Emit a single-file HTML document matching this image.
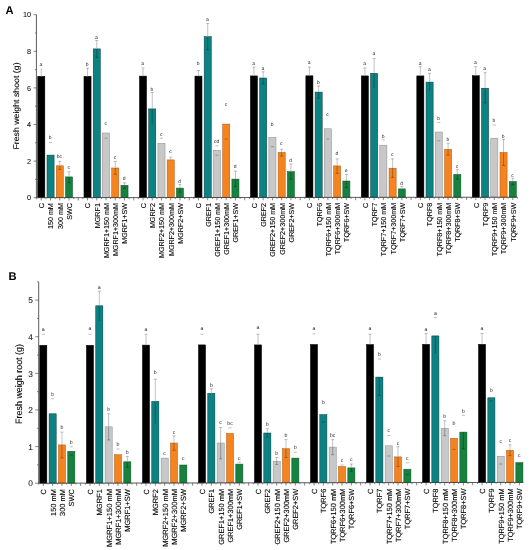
<!DOCTYPE html>
<html lang="en">
<head>
<meta charset="utf-8">
<title>Fresh weight shoot and root</title>
<style>
html,body{margin:0;padding:0;background:#fff}
body{width:531px;height:550px;overflow:hidden}
svg{display:block}
text{font-family:"Liberation Sans",Arial,Helvetica,sans-serif;fill:#111;text-rendering:geometricPrecision}
.xl{text-anchor:end;fill:#000;stroke:#000;stroke-width:.1px}
.yl{text-anchor:end;fill:#111;stroke:#111;stroke-width:.06px}
.sig{text-anchor:middle;fill:#262626}
.ti{fill:#000;stroke:#000;stroke-width:.1px}
.pl{font-size:11.2px;font-weight:bold;fill:#000}
.ax{fill:none;stroke:#333;stroke-width:0.8}
.tk{fill:none;stroke:#444;stroke-width:0.65}
.ev{fill:none;stroke:#b2b2b2;stroke-width:0.8}
.eu{fill:none;stroke:#8e8e8e;stroke-width:0.6}
.el{fill:none;stroke:#000;stroke-width:0.5;opacity:.55}
</style>
</head>
<body>
<svg width="531" height="550" viewBox="0 0 531 550">
<rect width="531" height="550" fill="#fff"/>
<g id="chartA">
<rect x="37.75" y="76.3" width="7.1" height="121.39" fill="#000000" stroke="#000000" stroke-width="0.5"/>
<rect x="46.99" y="155.1" width="7.1" height="42.59" fill="#0c8283" stroke="#043a3b" stroke-width="0.5"/>
<rect x="56.24" y="165.8" width="7.1" height="31.88" fill="#f5831f" stroke="#a85a18" stroke-width="0.5"/>
<rect x="65.48" y="176.9" width="7.1" height="20.77" fill="#17813f" stroke="#0c5226" stroke-width="0.5"/>
<rect x="83.97" y="76.3" width="7.1" height="121.35" fill="#000000" stroke="#000000" stroke-width="0.5"/>
<rect x="93.22" y="48.9" width="7.1" height="148.74" fill="#0c8283" stroke="#043a3b" stroke-width="0.5"/>
<rect x="102.46" y="133" width="7.1" height="64.63" fill="#c8c8c8" stroke="#8a8a8a" stroke-width="0.5"/>
<rect x="111.71" y="168" width="7.1" height="29.62" fill="#f5831f" stroke="#a85a18" stroke-width="0.5"/>
<rect x="120.95" y="185.3" width="7.1" height="12.31" fill="#17813f" stroke="#0c5226" stroke-width="0.5"/>
<rect x="139.44" y="76.1" width="7.1" height="121.49" fill="#000000" stroke="#000000" stroke-width="0.5"/>
<rect x="148.69" y="108.9" width="7.1" height="88.68" fill="#0c8283" stroke="#043a3b" stroke-width="0.5"/>
<rect x="157.93" y="143.3" width="7.1" height="54.27" fill="#c8c8c8" stroke="#8a8a8a" stroke-width="0.5"/>
<rect x="167.18" y="159.9" width="7.1" height="37.66" fill="#f5831f" stroke="#a85a18" stroke-width="0.5"/>
<rect x="176.42" y="188.1" width="7.1" height="9.45" fill="#17813f" stroke="#0c5226" stroke-width="0.5"/>
<rect x="194.91" y="76.1" width="7.1" height="121.43" fill="#000000" stroke="#000000" stroke-width="0.5"/>
<rect x="204.16" y="36.6" width="7.1" height="160.92" fill="#0c8283" stroke="#043a3b" stroke-width="0.5"/>
<rect x="213.4" y="150.3" width="7.1" height="47.21" fill="#c8c8c8" stroke="#8a8a8a" stroke-width="0.5"/>
<rect x="222.65" y="124.1" width="7.1" height="73.4" fill="#f5831f" stroke="#a85a18" stroke-width="0.5"/>
<rect x="231.89" y="179.1" width="7.1" height="18.39" fill="#17813f" stroke="#0c5226" stroke-width="0.5"/>
<rect x="250.38" y="75.9" width="7.1" height="121.57" fill="#000000" stroke="#000000" stroke-width="0.5"/>
<rect x="259.63" y="78" width="7.1" height="119.46" fill="#0c8283" stroke="#043a3b" stroke-width="0.5"/>
<rect x="268.87" y="137.3" width="7.1" height="60.15" fill="#c8c8c8" stroke="#8a8a8a" stroke-width="0.5"/>
<rect x="278.12" y="152.4" width="7.1" height="45.04" fill="#f5831f" stroke="#a85a18" stroke-width="0.5"/>
<rect x="287.36" y="171.6" width="7.1" height="25.84" fill="#17813f" stroke="#0c5226" stroke-width="0.5"/>
<rect x="305.85" y="75.8" width="7.1" height="121.62" fill="#000000" stroke="#000000" stroke-width="0.5"/>
<rect x="315.1" y="92.1" width="7.1" height="105.31" fill="#0c8283" stroke="#043a3b" stroke-width="0.5"/>
<rect x="324.34" y="128.8" width="7.1" height="68.6" fill="#c8c8c8" stroke="#8a8a8a" stroke-width="0.5"/>
<rect x="333.59" y="165.9" width="7.1" height="31.49" fill="#f5831f" stroke="#a85a18" stroke-width="0.5"/>
<rect x="342.83" y="181" width="7.1" height="16.38" fill="#17813f" stroke="#0c5226" stroke-width="0.5"/>
<rect x="361.32" y="75.9" width="7.1" height="121.46" fill="#000000" stroke="#000000" stroke-width="0.5"/>
<rect x="370.57" y="73.3" width="7.1" height="124.05" fill="#0c8283" stroke="#043a3b" stroke-width="0.5"/>
<rect x="379.81" y="145.2" width="7.1" height="52.14" fill="#c8c8c8" stroke="#8a8a8a" stroke-width="0.5"/>
<rect x="389.06" y="168.2" width="7.1" height="29.13" fill="#f5831f" stroke="#a85a18" stroke-width="0.5"/>
<rect x="398.3" y="188.9" width="7.1" height="8.42" fill="#17813f" stroke="#0c5226" stroke-width="0.5"/>
<rect x="416.79" y="75.9" width="7.1" height="121.4" fill="#000000" stroke="#000000" stroke-width="0.5"/>
<rect x="426.04" y="82.1" width="7.1" height="115.19" fill="#0c8283" stroke="#043a3b" stroke-width="0.5"/>
<rect x="435.28" y="132" width="7.1" height="65.28" fill="#c8c8c8" stroke="#8a8a8a" stroke-width="0.5"/>
<rect x="444.53" y="149.3" width="7.1" height="47.97" fill="#f5831f" stroke="#a85a18" stroke-width="0.5"/>
<rect x="453.77" y="174.4" width="7.1" height="22.86" fill="#17813f" stroke="#0c5226" stroke-width="0.5"/>
<rect x="472.26" y="75.7" width="7.1" height="121.54" fill="#000000" stroke="#000000" stroke-width="0.5"/>
<rect x="481.51" y="88.2" width="7.1" height="109.03" fill="#0c8283" stroke="#043a3b" stroke-width="0.5"/>
<rect x="490.75" y="138.2" width="7.1" height="59.02" fill="#c8c8c8" stroke="#8a8a8a" stroke-width="0.5"/>
<rect x="500" y="152.4" width="7.1" height="44.81" fill="#f5831f" stroke="#a85a18" stroke-width="0.5"/>
<rect x="509.24" y="181.5" width="7.1" height="15.7" fill="#17813f" stroke="#0c5226" stroke-width="0.5"/>
<g style="font-size:5px">
<path class="ev" d="M41.3 68.1V76.3M59.79 161.3V165.8M69.03 171.7V176.9M87.52 68.2V76.3M96.77 40.4V48.9M115.26 161.5V168M124.5 182.9V185.3M143 68V76.1M152.24 92.5V108.9M170.73 157.1V159.9M179.97 184.4V188.1M198.46 70.5V76.1M207.71 23.4V36.6M235.44 171.2V179.1M253.94 67.1V75.9M263.18 71.8V78M281.67 149.3V152.4M290.91 164V171.6M309.4 67.1V75.8M318.65 85.9V92.1M337.14 158.9V165.9M346.38 174.4V181M364.88 68V75.9M374.12 58.6V73.3M392.61 158.8V168.2M401.85 186.3V188.9M420.34 66.7V75.9M429.59 73.3V82.1M448.08 143.3V149.3M457.32 169.7V174.4M475.81 66.7V75.7M485.06 72.7V88.2M503.55 139.5V152.4M512.79 178.2V181.5"/>
<path class="eu" d="M49.04 142.5h3M58.29 161.3h3M67.53 171.7h3M86.02 68.2h3M95.27 40.4h3M113.76 161.5h3M123 182.9h3M141.5 68h3M150.74 92.5h3M159.98 138.2h3M169.23 157.1h3M178.47 184.4h3M196.96 70.5h3M206.21 23.4h3M215.45 145.8h3M233.94 171.2h3M252.44 67.1h3M261.68 71.8h3M280.17 149.3h3M289.41 164h3M307.9 67.1h3M317.15 85.9h3M335.64 158.9h3M344.88 174.4h3M363.38 68h3M372.62 58.6h3M381.87 139.9h3M391.11 158.8h3M400.35 186.3h3M418.84 66.7h3M428.09 73.3h3M437.33 122.6h3M446.58 143.3h3M455.82 169.7h3M474.31 66.7h3M483.56 72.7h3M492.8 125h3M502.05 139.5h3M511.29 178.2h3"/>
<path class="el" d="M59.79 165.8V169.4M58.29 169.4h3M69.03 176.9V182.8M67.53 182.8h3M96.77 48.9V57.4M95.27 57.4h3M104.51 138.2h3M115.26 168V174.4M113.76 174.4h3M124.5 185.3V188.5M123 188.5h3M152.24 108.9V124.5M179.97 188.1V192.3M178.47 192.3h3M207.71 36.6V49.8M206.21 49.8h3M215.45 155.2h3M224.7 139h3M235.44 179.1V186.6M233.94 186.6h3M263.18 78V84M261.68 84h3M270.92 146.7h3M281.67 152.4V156.1M280.17 156.1h3M290.91 171.6V179.1M289.41 179.1h3M318.65 92.1V98.2M317.15 98.2h3M326.39 139h3M337.14 165.9V173.4M335.64 173.4h3M346.38 181V187.6M344.88 187.6h3M374.12 73.3V88M392.61 168.2V177.4M391.11 177.4h3M429.59 82.1V90.7M437.33 140.8h3M448.08 149.3V155M446.58 155h3M457.32 174.4V179.1M455.82 179.1h3M485.06 88.2V102.9M483.56 102.9h3M503.55 152.4V165.5M502.05 165.5h3M512.79 181.5V184.7M511.29 184.7h3"/>
<text class="sig" x="41" y="65.75">a</text>
<text class="sig" x="50.24" y="138.95">b</text>
<text class="sig" x="59.49" y="158.35">bc</text>
<text class="sig" x="68.73" y="169.25">c</text>
<text class="sig" x="87.22" y="66.25">b</text>
<text class="sig" x="96.47" y="38.55">a</text>
<text class="sig" x="105.71" y="125.25">c</text>
<text class="sig" x="114.96" y="158.75">c</text>
<text class="sig" x="124.2" y="180.25">d</text>
<text class="sig" x="142.69" y="65.05">a</text>
<text class="sig" x="151.94" y="91.05">b</text>
<text class="sig" x="161.18" y="136.25">c</text>
<text class="sig" x="170.43" y="152.95">c</text>
<text class="sig" x="179.67" y="183.15">d</text>
<text class="sig" x="198.16" y="65.05">b</text>
<text class="sig" x="207.41" y="20.85">a</text>
<text class="sig" x="216.65" y="143.15">cd</text>
<text class="sig" x="225.9" y="106.45">c</text>
<text class="sig" x="235.14" y="168.05">d</text>
<text class="sig" x="253.63" y="64.65">a</text>
<text class="sig" x="262.88" y="69.75">a</text>
<text class="sig" x="272.12" y="126.25">b</text>
<text class="sig" x="281.37" y="145.45">c</text>
<text class="sig" x="290.61" y="161.65">d</text>
<text class="sig" x="309.1" y="63.55">a</text>
<text class="sig" x="318.35" y="84.45">b</text>
<text class="sig" x="327.59" y="115.85">c</text>
<text class="sig" x="336.84" y="155.45">d</text>
<text class="sig" x="346.08" y="172.35">e</text>
<text class="sig" x="364.57" y="64.65">a</text>
<text class="sig" x="373.82" y="55.25">a</text>
<text class="sig" x="383.06" y="137.55">b</text>
<text class="sig" x="392.31" y="156.35">c</text>
<text class="sig" x="401.55" y="184.65">d</text>
<text class="sig" x="420.04" y="64.65">a</text>
<text class="sig" x="429.29" y="70.75">a</text>
<text class="sig" x="438.53" y="120.05">b</text>
<text class="sig" x="447.78" y="141.25">b</text>
<text class="sig" x="457.02" y="168.05">c</text>
<text class="sig" x="475.51" y="64.15">a</text>
<text class="sig" x="484.76" y="70.35">a</text>
<text class="sig" x="494" y="122.45">b</text>
<text class="sig" x="503.25" y="138.05">b</text>
<text class="sig" x="512.5" y="176.75">c</text>
</g>
<path class="ax" d="M36.4 14.7V197.7M36.1 197.7L517.3 197.2"/>
<path class="tk" d="M33.6 197.7h2.8M35 179.4h1.4M33.6 161.1h2.8M35 142.8h1.4M33.6 124.5h2.8M35 106.2h1.4M33.6 87.9h2.8M35 69.6h1.4M33.6 51.3h2.8M35 33h1.4M33.6 14.7h2.8M36.68 197.7v1.5M41.3 197.69v2.8M45.92 197.69v1.5M50.54 197.69v2.8M55.17 197.68v1.5M59.79 197.68v2.8M64.41 197.67v1.5M69.03 197.67v2.8M73.66 197.66v1.5M78.28 197.66v2.8M82.9 197.65v1.5M87.52 197.65v2.8M92.15 197.64v1.5M96.77 197.64v2.8M101.39 197.63v1.5M106.01 197.63v2.8M110.64 197.62v1.5M115.26 197.62v2.8M119.88 197.61v1.5M124.5 197.61v2.8M129.13 197.6v1.5M133.75 197.6v2.8M138.37 197.59v1.5M143 197.59v2.8M147.62 197.58v1.5M152.24 197.58v2.8M156.86 197.57v1.5M161.48 197.57v2.8M166.11 197.57v1.5M170.73 197.56v2.8M175.35 197.56v1.5M179.97 197.55v2.8M184.6 197.55v1.5M189.22 197.54v2.8M193.84 197.54v1.5M198.46 197.53v2.8M203.09 197.53v1.5M207.71 197.52v2.8M212.33 197.52v1.5M216.95 197.51v2.8M221.58 197.51v1.5M226.2 197.5v2.8M230.82 197.5v1.5M235.44 197.49v2.8M240.07 197.49v1.5M244.69 197.48v2.8M249.31 197.48v1.5M253.94 197.47v2.8M258.56 197.47v1.5M263.18 197.46v2.8M267.8 197.46v1.5M272.42 197.45v2.8M277.05 197.45v1.5M281.67 197.44v2.8M286.29 197.44v1.5M290.91 197.44v2.8M295.54 197.43v1.5M300.16 197.43v2.8M304.78 197.42v1.5M309.4 197.42v2.8M314.03 197.41v1.5M318.65 197.41v2.8M323.27 197.4v1.5M327.89 197.4v2.8M332.52 197.39v1.5M337.14 197.39v2.8M341.76 197.38v1.5M346.38 197.38v2.8M351.01 197.37v1.5M355.63 197.37v2.8M360.25 197.36v1.5M364.88 197.36v2.8M369.5 197.35v1.5M374.12 197.35v2.8M378.74 197.34v1.5M383.37 197.34v2.8M387.99 197.33v1.5M392.61 197.33v2.8M397.23 197.32v1.5M401.85 197.32v2.8M406.48 197.32v1.5M411.1 197.31v2.8M415.72 197.31v1.5M420.34 197.3v2.8M424.97 197.3v1.5M429.59 197.29v2.8M434.21 197.29v1.5M438.83 197.28v2.8M443.46 197.28v1.5M448.08 197.27v2.8M452.7 197.27v1.5M457.32 197.26v2.8M461.95 197.26v1.5M466.57 197.25v2.8M471.19 197.25v1.5M475.81 197.24v2.8M480.44 197.24v1.5M485.06 197.23v2.8M489.68 197.23v1.5M494.3 197.22v2.8M498.93 197.22v1.5M503.55 197.21v2.8M508.17 197.21v1.5M512.79 197.2v2.8M517.42 197.2v1.5"/>
<text class="yl" style="font-size:7.3px" x="31" y="200.43">0</text>
<text class="yl" style="font-size:7.3px" x="31" y="163.83">2</text>
<text class="yl" style="font-size:7.3px" x="31" y="127.23">4</text>
<text class="yl" style="font-size:7.3px" x="31" y="90.63">6</text>
<text class="yl" style="font-size:7.3px" x="31" y="54.03">8</text>
<text class="yl" style="font-size:7.3px" x="31" y="17.43">10</text>
<g style="font-size:7.15px">
<text class="xl" transform="translate(44.2 203.19) rotate(-90)">C</text>
<text class="xl" transform="translate(53.44 203.18) rotate(-90)">150 mM</text>
<text class="xl" transform="translate(62.69 203.17) rotate(-90)">300 mM</text>
<text class="xl" transform="translate(71.94 203.16) rotate(-90)">SWC</text>
<text class="xl" transform="translate(90.42 203.14) rotate(-90)">C</text>
<text class="xl" transform="translate(99.67 203.13) rotate(-90)">MGRF1</text>
<text class="xl" transform="translate(108.91 203.12) rotate(-90)">MGRF1+150 mM</text>
<text class="xl" transform="translate(118.16 203.11) rotate(-90)">MGRF1+300mM</text>
<text class="xl" transform="translate(127.41 203.11) rotate(-90)">MGRF1+SW</text>
<text class="xl" transform="translate(145.9 203.09) rotate(-90)">C</text>
<text class="xl" transform="translate(155.14 203.08) rotate(-90)">MGRF2</text>
<text class="xl" transform="translate(164.38 203.07) rotate(-90)">MGRF2+150 mM</text>
<text class="xl" transform="translate(173.63 203.06) rotate(-90)">MGRF2+300mM</text>
<text class="xl" transform="translate(182.87 203.05) rotate(-90)">MGRF2+SW</text>
<text class="xl" transform="translate(201.36 203.03) rotate(-90)">C</text>
<text class="xl" transform="translate(210.61 203.02) rotate(-90)">GREF1</text>
<text class="xl" transform="translate(219.85 203.01) rotate(-90)">GREF1+150 mM</text>
<text class="xl" transform="translate(229.1 203) rotate(-90)">GREF1+300mM</text>
<text class="xl" transform="translate(238.34 202.99) rotate(-90)">GREF1+SW</text>
<text class="xl" transform="translate(256.83 202.97) rotate(-90)">C</text>
<text class="xl" transform="translate(266.08 202.96) rotate(-90)">GREF2</text>
<text class="xl" transform="translate(275.32 202.95) rotate(-90)">GREF2+150 mM</text>
<text class="xl" transform="translate(284.57 202.94) rotate(-90)">GREF2+300mM</text>
<text class="xl" transform="translate(293.81 202.93) rotate(-90)">GREF2+SW</text>
<text class="xl" transform="translate(312.3 202.91) rotate(-90)">C</text>
<text class="xl" transform="translate(321.55 202.9) rotate(-90)">TQRF6</text>
<text class="xl" transform="translate(330.79 202.89) rotate(-90)">TQRF6+150 mM</text>
<text class="xl" transform="translate(340.04 202.88) rotate(-90)">TQRF6+300mM</text>
<text class="xl" transform="translate(349.28 202.87) rotate(-90)">TQRF6+SW</text>
<text class="xl" transform="translate(367.77 202.86) rotate(-90)">C</text>
<text class="xl" transform="translate(377.02 202.85) rotate(-90)">TQRF7</text>
<text class="xl" transform="translate(386.26 202.84) rotate(-90)">TQRF7+150 mM</text>
<text class="xl" transform="translate(395.51 202.83) rotate(-90)">TQRF7+300mM</text>
<text class="xl" transform="translate(404.75 202.82) rotate(-90)">TQRF7+SW</text>
<text class="xl" transform="translate(423.24 202.8) rotate(-90)">C</text>
<text class="xl" transform="translate(432.49 202.79) rotate(-90)">TQRF8</text>
<text class="xl" transform="translate(441.73 202.78) rotate(-90)">TQRF8+150 mM</text>
<text class="xl" transform="translate(450.98 202.77) rotate(-90)">TQRF8+300mM</text>
<text class="xl" transform="translate(460.22 202.76) rotate(-90)">TQRF8+SW</text>
<text class="xl" transform="translate(478.71 202.74) rotate(-90)">C</text>
<text class="xl" transform="translate(487.96 202.73) rotate(-90)">TQRF9</text>
<text class="xl" transform="translate(497.2 202.72) rotate(-90)">TQRF9+150 mM</text>
<text class="xl" transform="translate(506.45 202.71) rotate(-90)">TQRF9+300mM</text>
<text class="xl" transform="translate(515.69 202.7) rotate(-90)">TQRF9+SW</text>
</g>
<text class="ti" style="font-size:8.2px" transform="translate(18.9 149.6) rotate(-90) scale(1.07 1)">Fresh weight shoot (g)</text>
<text class="pl" x="5.6" y="14.1">A</text>
</g>
<g id="chartB">
<rect x="39.75" y="345.3" width="7.1" height="137.89" fill="#000000" stroke="#000000" stroke-width="0.5"/>
<rect x="49.09" y="413.8" width="7.1" height="69.38" fill="#0c8283" stroke="#043a3b" stroke-width="0.5"/>
<rect x="58.42" y="444.9" width="7.1" height="38.26" fill="#f5831f" stroke="#a85a18" stroke-width="0.5"/>
<rect x="67.76" y="451.3" width="7.1" height="31.85" fill="#17813f" stroke="#0c5226" stroke-width="0.5"/>
<rect x="86.42" y="345.3" width="7.1" height="137.82" fill="#000000" stroke="#000000" stroke-width="0.5"/>
<rect x="95.76" y="305.8" width="7.1" height="177.3" fill="#0c8283" stroke="#043a3b" stroke-width="0.5"/>
<rect x="105.09" y="426.8" width="7.1" height="56.28" fill="#c8c8c8" stroke="#8a8a8a" stroke-width="0.5"/>
<rect x="114.43" y="454.7" width="7.1" height="28.37" fill="#f5831f" stroke="#a85a18" stroke-width="0.5"/>
<rect x="123.77" y="461.8" width="7.1" height="21.25" fill="#17813f" stroke="#0c5226" stroke-width="0.5"/>
<rect x="142.44" y="345.1" width="7.1" height="137.92" fill="#000000" stroke="#000000" stroke-width="0.5"/>
<rect x="151.77" y="401.4" width="7.1" height="81.61" fill="#0c8283" stroke="#043a3b" stroke-width="0.5"/>
<rect x="161.11" y="458.1" width="7.1" height="24.89" fill="#c8c8c8" stroke="#8a8a8a" stroke-width="0.5"/>
<rect x="170.44" y="443" width="7.1" height="39.98" fill="#f5831f" stroke="#a85a18" stroke-width="0.5"/>
<rect x="179.77" y="465" width="7.1" height="17.96" fill="#17813f" stroke="#0c5226" stroke-width="0.5"/>
<rect x="198.44" y="344.9" width="7.1" height="138.03" fill="#000000" stroke="#000000" stroke-width="0.5"/>
<rect x="207.78" y="393.3" width="7.1" height="89.62" fill="#0c8283" stroke="#043a3b" stroke-width="0.5"/>
<rect x="217.12" y="443" width="7.1" height="39.9" fill="#c8c8c8" stroke="#8a8a8a" stroke-width="0.5"/>
<rect x="226.45" y="433.4" width="7.1" height="49.48" fill="#f5831f" stroke="#a85a18" stroke-width="0.5"/>
<rect x="235.79" y="464.1" width="7.1" height="18.77" fill="#17813f" stroke="#0c5226" stroke-width="0.5"/>
<rect x="254.45" y="344.9" width="7.1" height="137.94" fill="#000000" stroke="#000000" stroke-width="0.5"/>
<rect x="263.79" y="433" width="7.1" height="49.82" fill="#0c8283" stroke="#043a3b" stroke-width="0.5"/>
<rect x="273.12" y="461.3" width="7.1" height="21.51" fill="#c8c8c8" stroke="#8a8a8a" stroke-width="0.5"/>
<rect x="282.46" y="448.7" width="7.1" height="34.09" fill="#f5831f" stroke="#a85a18" stroke-width="0.5"/>
<rect x="291.8" y="458.1" width="7.1" height="24.68" fill="#17813f" stroke="#0c5226" stroke-width="0.5"/>
<rect x="310.47" y="344.5" width="7.1" height="138.25" fill="#000000" stroke="#000000" stroke-width="0.5"/>
<rect x="319.8" y="414.6" width="7.1" height="68.13" fill="#0c8283" stroke="#043a3b" stroke-width="0.5"/>
<rect x="329.14" y="447.1" width="7.1" height="35.61" fill="#c8c8c8" stroke="#8a8a8a" stroke-width="0.5"/>
<rect x="338.47" y="466.5" width="7.1" height="16.2" fill="#f5831f" stroke="#a85a18" stroke-width="0.5"/>
<rect x="347.81" y="467.9" width="7.1" height="14.78" fill="#17813f" stroke="#0c5226" stroke-width="0.5"/>
<rect x="366.48" y="344.5" width="7.1" height="138.15" fill="#000000" stroke="#000000" stroke-width="0.5"/>
<rect x="375.81" y="377.1" width="7.1" height="105.54" fill="#0c8283" stroke="#043a3b" stroke-width="0.5"/>
<rect x="385.15" y="445.8" width="7.1" height="36.82" fill="#c8c8c8" stroke="#8a8a8a" stroke-width="0.5"/>
<rect x="394.48" y="456.9" width="7.1" height="25.71" fill="#f5831f" stroke="#a85a18" stroke-width="0.5"/>
<rect x="403.82" y="469.2" width="7.1" height="13.39" fill="#17813f" stroke="#0c5226" stroke-width="0.5"/>
<rect x="422.49" y="344.3" width="7.1" height="138.26" fill="#000000" stroke="#000000" stroke-width="0.5"/>
<rect x="431.82" y="335.9" width="7.1" height="146.65" fill="#0c8283" stroke="#043a3b" stroke-width="0.5"/>
<rect x="441.16" y="428.3" width="7.1" height="54.23" fill="#c8c8c8" stroke="#8a8a8a" stroke-width="0.5"/>
<rect x="450.49" y="438.3" width="7.1" height="44.21" fill="#f5831f" stroke="#a85a18" stroke-width="0.5"/>
<rect x="459.83" y="432.1" width="7.1" height="50.4" fill="#17813f" stroke="#0c5226" stroke-width="0.5"/>
<rect x="478.5" y="344.3" width="7.1" height="138.17" fill="#000000" stroke="#000000" stroke-width="0.5"/>
<rect x="487.83" y="397.8" width="7.1" height="84.65" fill="#0c8283" stroke="#043a3b" stroke-width="0.5"/>
<rect x="497.17" y="456.2" width="7.1" height="26.24" fill="#c8c8c8" stroke="#8a8a8a" stroke-width="0.5"/>
<rect x="506.5" y="450.3" width="7.1" height="32.12" fill="#f5831f" stroke="#a85a18" stroke-width="0.5"/>
<rect x="515.84" y="462.6" width="7.1" height="19.81" fill="#17813f" stroke="#0c5226" stroke-width="0.5"/>
<g style="font-size:5.2px">
<path class="ev" d="M61.97 432.1V444.9M99.31 291.2V305.8M108.64 413.8V426.8M127.32 456.6V461.8M145.99 334.3V345.1M155.32 379.2V401.4M173.99 435.8V443M211.33 388.8V393.3M220.67 427.4V443M258 334.2V344.9M267.34 428.7V433M276.68 457.5V461.3M286.01 439.6V448.7M332.69 439.6V447.1M351.36 464.1V467.9M370.03 334.2V344.5M398.03 446.6V456.9M426.04 333.6V344.3M444.71 420.8V428.3M482.05 333.6V344.3M510.05 444.9V450.3"/>
<path class="eu" d="M41.8 334.3h3M51.13 398.7h3M60.47 432.1h3M69.81 446.8h3M88.47 334.3h3M97.81 291.2h3M107.14 413.8h3M116.48 449h3M125.82 456.6h3M144.49 334.3h3M153.82 379.2h3M172.49 435.8h3M200.5 334.2h3M209.83 388.8h3M219.17 427.4h3M228.5 427.9h3M237.84 462.2h3M256.5 334.2h3M265.84 428.7h3M275.18 457.5h3M284.51 439.6h3M293.85 452.2h3M312.52 333.8h3M331.19 439.6h3M340.52 465h3M349.86 464.1h3M368.53 334.2h3M377.86 359h3M387.2 435.5h3M396.53 446.6h3M405.87 462.8h3M424.54 333.6h3M433.87 317.6h3M443.21 420.8h3M461.88 415.3h3M480.55 333.6h3M508.55 444.9h3"/>
<path class="el" d="M61.97 444.9V457.9M60.47 457.9h3M69.81 455.1h3M99.31 305.8V321M108.64 426.8V440M107.14 440h3M127.32 461.8V467.2M125.82 467.2h3M155.32 401.4V423.6M173.99 443V450.3M172.49 450.3h3M220.67 443V458.8M219.17 458.8h3M267.34 433V437M265.84 437h3M276.68 461.3V464.5M275.18 464.5h3M286.01 448.7V457.5M284.51 457.5h3M321.85 422.1h3M332.69 447.1V454.7M331.19 454.7h3M351.36 467.9V471.5M349.86 471.5h3M379.36 377.1V395.4M377.86 395.4h3M387.2 456h3M398.03 456.9V466.6M396.53 466.6h3M405.87 474.5h3M435.37 335.9V353.6M444.71 428.3V435.8M443.21 435.8h3M452.54 449.4h3M463.38 432.1V448.8M461.88 448.8h3M489.88 401h3M499.22 464h3M510.05 450.3V455.6M508.55 455.6h3M517.88 464h3"/>
<text class="sig" x="43.3" y="331">a</text>
<text class="sig" x="52.63" y="395.8">b</text>
<text class="sig" x="61.97" y="429.3">b</text>
<text class="sig" x="71.31" y="444.4">b</text>
<text class="sig" x="89.97" y="330.4">a</text>
<text class="sig" x="99.31" y="288.7">a</text>
<text class="sig" x="108.64" y="410.5">b</text>
<text class="sig" x="117.98" y="445.7">b</text>
<text class="sig" x="127.32" y="453.8">b</text>
<text class="sig" x="145.99" y="331">a</text>
<text class="sig" x="155.32" y="374.3">b</text>
<text class="sig" x="164.66" y="455.1">c</text>
<text class="sig" x="173.99" y="433.5">c</text>
<text class="sig" x="183.32" y="459.8">c</text>
<text class="sig" x="202" y="329.6">a</text>
<text class="sig" x="211.33" y="387">b</text>
<text class="sig" x="220.67" y="423.5">c</text>
<text class="sig" x="230" y="425">bc</text>
<text class="sig" x="239.34" y="459.5">c</text>
<text class="sig" x="258" y="328.6">a</text>
<text class="sig" x="267.34" y="425.9">b</text>
<text class="sig" x="276.68" y="455.1">b</text>
<text class="sig" x="286.01" y="437.2">b</text>
<text class="sig" x="295.35" y="449.1">b</text>
<text class="sig" x="314.02" y="329.6">a</text>
<text class="sig" x="323.35" y="403.9">b</text>
<text class="sig" x="332.69" y="436.9">bc</text>
<text class="sig" x="342.02" y="462.1">c</text>
<text class="sig" x="351.36" y="461.2">c</text>
<text class="sig" x="370.03" y="329.9">a</text>
<text class="sig" x="379.36" y="356.3">b</text>
<text class="sig" x="388.7" y="432.2">c</text>
<text class="sig" x="398.03" y="444.8">c</text>
<text class="sig" x="407.37" y="460.2">c</text>
<text class="sig" x="426.04" y="331.2">a</text>
<text class="sig" x="435.37" y="315.2">a</text>
<text class="sig" x="444.71" y="418.4">b</text>
<text class="sig" x="454.04" y="425">b</text>
<text class="sig" x="463.38" y="412.8">b</text>
<text class="sig" x="482.05" y="329.9">a</text>
<text class="sig" x="491.38" y="391.6">b</text>
<text class="sig" x="500.72" y="442.5">c</text>
<text class="sig" x="510.05" y="441.6">c</text>
<text class="sig" x="519.38" y="456.6">c</text>
</g>
<path class="ax" d="M38.7 281.9V483.2M38.4 483.2L523.3 482.4"/>
<path class="tk" d="M35.2 483.2h3.5M36.95 464.89h1.75M35.2 446.58h3.5M36.95 428.27h1.75M35.2 409.96h3.5M36.95 391.65h1.75M35.2 373.34h3.5M36.95 355.03h1.75M35.2 336.72h3.5M36.95 318.41h1.75M35.2 300.1h3.5M36.95 281.79h1.75M38.63 483.2v1.5M43.3 483.19v2.8M47.97 483.18v1.5M52.63 483.18v2.8M57.3 483.17v1.5M61.97 483.16v2.8M66.64 483.15v1.5M71.31 483.15v2.8M75.97 483.14v1.5M80.64 483.13v2.8M85.31 483.12v1.5M89.97 483.12v2.8M94.64 483.11v1.5M99.31 483.1v2.8M103.98 483.09v1.5M108.64 483.08v2.8M113.31 483.08v1.5M117.98 483.07v2.8M122.65 483.06v1.5M127.32 483.05v2.8M131.98 483.05v1.5M136.65 483.04v2.8M141.32 483.03v1.5M145.99 483.02v2.8M150.65 483.02v1.5M155.32 483.01v2.8M159.99 483v1.5M164.66 482.99v2.8M169.32 482.98v1.5M173.99 482.98v2.8M178.66 482.97v1.5M183.32 482.96v2.8M187.99 482.95v1.5M192.66 482.95v2.8M197.33 482.94v1.5M202 482.93v2.8M206.66 482.92v1.5M211.33 482.92v2.8M216 482.91v1.5M220.67 482.9v2.8M225.33 482.89v1.5M230 482.88v2.8M234.67 482.88v1.5M239.34 482.87v2.8M244 482.86v1.5M248.67 482.85v2.8M253.34 482.85v1.5M258 482.84v2.8M262.67 482.83v1.5M267.34 482.82v2.8M272.01 482.81v1.5M276.68 482.81v2.8M281.34 482.8v1.5M286.01 482.79v2.8M290.68 482.78v1.5M295.35 482.78v2.8M300.01 482.77v1.5M304.68 482.76v2.8M309.35 482.75v1.5M314.02 482.75v2.8M318.68 482.74v1.5M323.35 482.73v2.8M328.02 482.72v1.5M332.69 482.71v2.8M337.35 482.71v1.5M342.02 482.7v2.8M346.69 482.69v1.5M351.36 482.68v2.8M356.02 482.68v1.5M360.69 482.67v2.8M365.36 482.66v1.5M370.03 482.65v2.8M374.69 482.65v1.5M379.36 482.64v2.8M384.03 482.63v1.5M388.7 482.62v2.8M393.36 482.61v1.5M398.03 482.61v2.8M402.7 482.6v1.5M407.37 482.59v2.8M412.03 482.58v1.5M416.7 482.58v2.8M421.37 482.57v1.5M426.04 482.56v2.8M430.7 482.55v1.5M435.37 482.55v2.8M440.04 482.54v1.5M444.71 482.53v2.8M449.37 482.52v1.5M454.04 482.51v2.8M458.71 482.51v1.5M463.38 482.5v2.8M468.04 482.49v1.5M472.71 482.48v2.8M477.38 482.48v1.5M482.05 482.47v2.8M486.71 482.46v1.5M491.38 482.45v2.8M496.05 482.44v1.5M500.72 482.44v2.8M505.38 482.43v1.5M510.05 482.42v2.8M514.72 482.41v1.5M519.38 482.41v2.8"/>
<text class="yl" style="font-size:8.3px" x="32.9" y="486.39">0</text>
<text class="yl" style="font-size:8.3px" x="32.9" y="449.77">1</text>
<text class="yl" style="font-size:8.3px" x="32.9" y="413.15">2</text>
<text class="yl" style="font-size:8.3px" x="32.9" y="376.53">3</text>
<text class="yl" style="font-size:8.3px" x="32.9" y="339.91">4</text>
<text class="yl" style="font-size:8.3px" x="32.9" y="303.29">5</text>
<g style="font-size:7.42px">
<text class="xl" transform="translate(46.3 489.19) rotate(-90)">C</text>
<text class="xl" transform="translate(55.63 489.17) rotate(-90)">150 mM</text>
<text class="xl" transform="translate(64.97 489.16) rotate(-90)">300 mM</text>
<text class="xl" transform="translate(74.31 489.14) rotate(-90)">SWC</text>
<text class="xl" transform="translate(92.97 489.11) rotate(-90)">C</text>
<text class="xl" style="font-size:7.52px" transform="translate(102.31 489.09) rotate(-90)">MGRF1</text>
<text class="xl" style="font-size:7.52px" transform="translate(111.64 489.08) rotate(-90)">MGRF1+150 mM</text>
<text class="xl" style="font-size:7.52px" transform="translate(120.98 489.06) rotate(-90)">MGRF1+300mM</text>
<text class="xl" style="font-size:7.52px" transform="translate(130.31 489.05) rotate(-90)">MGRF1+SW</text>
<text class="xl" transform="translate(148.99 489.02) rotate(-90)">C</text>
<text class="xl" style="font-size:7.52px" transform="translate(158.32 489) rotate(-90)">MGRF2</text>
<text class="xl" style="font-size:7.52px" transform="translate(167.66 488.99) rotate(-90)">MGRF2+150 mM</text>
<text class="xl" style="font-size:7.52px" transform="translate(176.99 488.97) rotate(-90)">MGRF2+300mM</text>
<text class="xl" style="font-size:7.52px" transform="translate(186.32 488.96) rotate(-90)">MGRF2+SW</text>
<text class="xl" transform="translate(205 488.93) rotate(-90)">C</text>
<text class="xl" transform="translate(214.33 488.91) rotate(-90)">GREF1</text>
<text class="xl" transform="translate(223.67 488.89) rotate(-90)">GREF1+150 mM</text>
<text class="xl" transform="translate(233 488.88) rotate(-90)">GREF1+300mM</text>
<text class="xl" transform="translate(242.34 488.86) rotate(-90)">GREF1+SW</text>
<text class="xl" transform="translate(261 488.83) rotate(-90)">C</text>
<text class="xl" transform="translate(270.34 488.82) rotate(-90)">GREF2</text>
<text class="xl" transform="translate(279.68 488.8) rotate(-90)">GREF2+150 mM</text>
<text class="xl" transform="translate(289.01 488.79) rotate(-90)">GREF2+300mM</text>
<text class="xl" transform="translate(298.35 488.77) rotate(-90)">GREF2+SW</text>
<text class="xl" transform="translate(317.02 488.74) rotate(-90)">C</text>
<text class="xl" transform="translate(326.35 488.73) rotate(-90)">TQRF6</text>
<text class="xl" transform="translate(335.69 488.71) rotate(-90)">TQRF6+150 mM</text>
<text class="xl" transform="translate(345.02 488.69) rotate(-90)">TQRF6+300mM</text>
<text class="xl" transform="translate(354.36 488.68) rotate(-90)">TQRF6+SW</text>
<text class="xl" transform="translate(373.03 488.65) rotate(-90)">C</text>
<text class="xl" transform="translate(382.36 488.63) rotate(-90)">TQRF7</text>
<text class="xl" transform="translate(391.7 488.62) rotate(-90)">TQRF7+150 mM</text>
<text class="xl" transform="translate(401.03 488.6) rotate(-90)">TQRF7+300mM</text>
<text class="xl" transform="translate(410.37 488.59) rotate(-90)">TQRF7+SW</text>
<text class="xl" transform="translate(429.04 488.56) rotate(-90)">C</text>
<text class="xl" transform="translate(438.37 488.54) rotate(-90)">TQRF8</text>
<text class="xl" transform="translate(447.71 488.52) rotate(-90)">TQRF8+150 mM</text>
<text class="xl" transform="translate(457.04 488.51) rotate(-90)">TQRF8+300mM</text>
<text class="xl" transform="translate(466.38 488.49) rotate(-90)">TQRF8+SW</text>
<text class="xl" transform="translate(485.05 488.46) rotate(-90)">C</text>
<text class="xl" transform="translate(494.38 488.45) rotate(-90)">TQRF9</text>
<text class="xl" transform="translate(503.72 488.43) rotate(-90)">TQRF9+150 mM</text>
<text class="xl" transform="translate(513.05 488.42) rotate(-90)">TQRF9+300mM</text>
<text class="xl" transform="translate(522.38 488.4) rotate(-90)">TQRF9+SW</text>
</g>
<text class="ti" style="font-size:9.3px" transform="translate(21.6 423.9) rotate(-90) scale(0.96 1)">Fresh weigh root (g)</text>
<text class="pl" x="8.4" y="279.8">B</text>
</g>
</svg>
</body>
</html>
